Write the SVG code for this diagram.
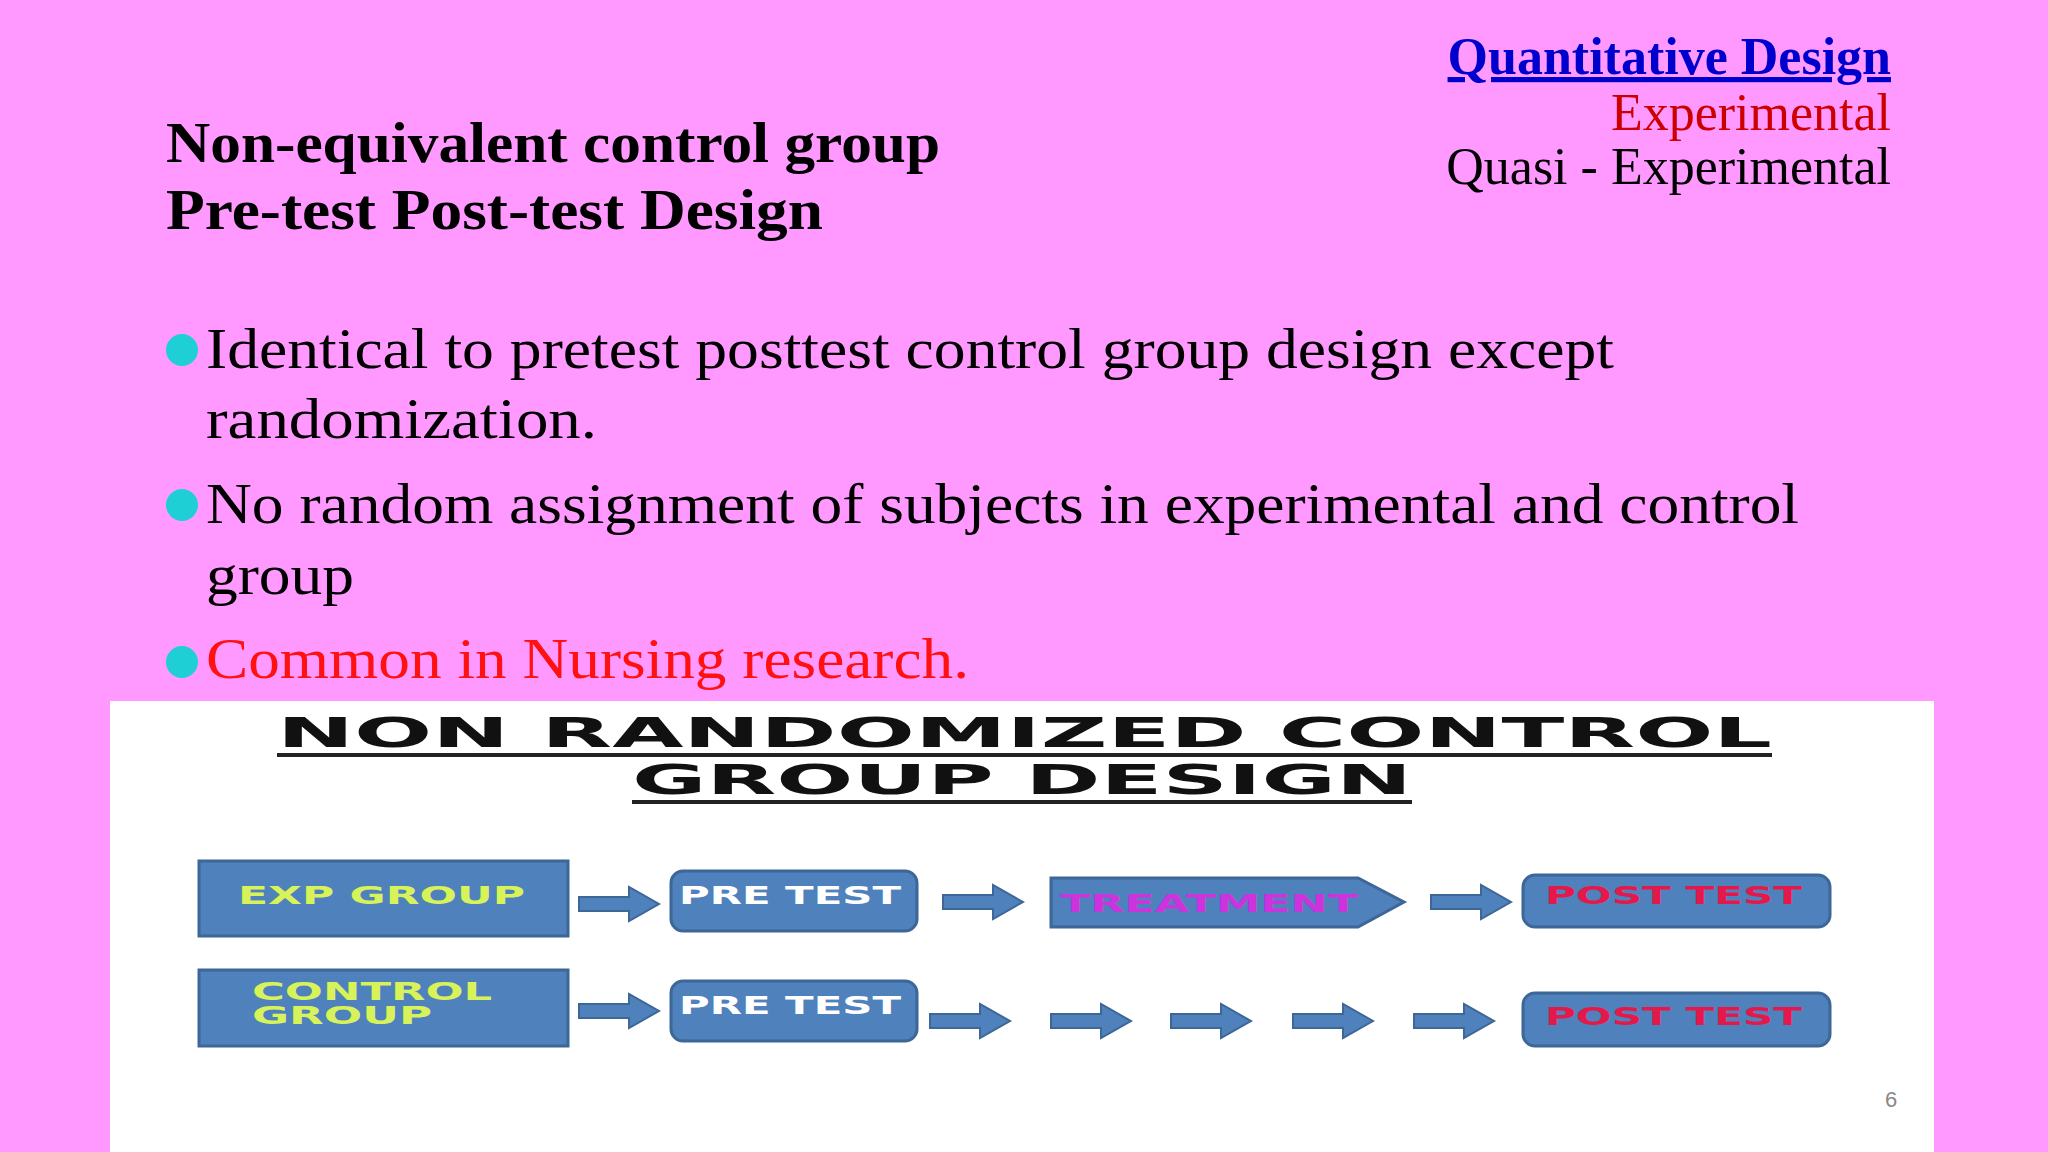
<svg xmlns="http://www.w3.org/2000/svg" width="2048" height="1152" viewBox="0 0 2048 1152">
<defs>
<style>
.h{font-family:"Liberation Serif",serif;font-weight:bold;font-size:58px;fill:#000}
.b{font-family:"Liberation Serif",serif;font-size:57px}
.tr{font-family:"Liberation Serif",serif;font-size:52px;text-anchor:end}
.bul{fill:#1fcfd6}
.box{fill:#4f81bd;stroke:#3d6796;stroke-width:3}
.bt{font-family:"DejaVu Sans",sans-serif;font-weight:bold;font-size:24px}
.ti{font-family:"DejaVu Sans",sans-serif;font-weight:bold;font-size:40px;fill:#111}
.ar{fill:#4f81bd;stroke:#3d6796;stroke-width:2}
</style>
<path id="arr" d="M0,-7 H50 V-17 L80,0 L50,17 V7 H0 Z"/>
</defs>
<rect width="2048" height="1152" fill="#ff99ff"/>
<g id="header">
<text class="h" x="166" y="162" textLength="774" lengthAdjust="spacingAndGlyphs">Non-equivalent control  group</text>
<text class="h" x="166" y="229" textLength="657" lengthAdjust="spacingAndGlyphs">Pre-test  Post-test  Design</text>
<text class="tr" x="1891" y="74" fill="#0000cc" font-weight="bold" text-decoration="underline">Quantitative Design</text>
<text class="tr" x="1891" y="130" fill="#cc0000">Experimental</text>
<text class="tr" x="1891" y="184" fill="#000">Quasi -  Experimental</text>
</g>
<g id="bullets">
<circle class="bul" cx="182" cy="350" r="16"/>
<circle class="bul" cx="182" cy="505" r="16"/>
<circle class="bul" cx="182" cy="662" r="16"/>
<text class="b" x="206" y="368" fill="#000" textLength="1408" lengthAdjust="spacingAndGlyphs">Identical to pretest posttest control group design  except</text>
<text class="b" x="206" y="438" fill="#000" textLength="391" lengthAdjust="spacingAndGlyphs">randomization.</text>
<text class="b" x="206" y="523" fill="#000" textLength="1593" lengthAdjust="spacingAndGlyphs">No random assignment of subjects in experimental and control</text>
<text class="b" x="206" y="594" fill="#000" textLength="148" lengthAdjust="spacingAndGlyphs">group</text>
<text class="b" x="206" y="678" fill="#ff1111" textLength="763" lengthAdjust="spacingAndGlyphs">Common in Nursing research.</text>
</g>
<rect x="110" y="701" width="1824" height="451" fill="#ffffff"/>
<g id="title">
<text class="ti" x="277" y="747" textLength="1495" lengthAdjust="spacingAndGlyphs">NON RANDOMIZED CONTROL</text>
<rect x="277" y="753" width="1495" height="4" fill="#222"/>
<text class="ti" x="632" y="794" textLength="780" lengthAdjust="spacingAndGlyphs">GROUP DESIGN</text>
<rect x="632" y="800" width="780" height="4" fill="#222"/>
</g>
<g id="exp-group"><rect class="box" x="199" y="861" width="369" height="75"/>
<text class="bt" x="238" y="904" fill="#d8f25a" textLength="287" lengthAdjust="spacingAndGlyphs">EXP GROUP</text></g>
<g id="pre-test-1"><rect class="box" x="671" y="871" width="246" height="60" rx="12"/>
<text class="bt" x="679" y="904" fill="#ffffff" textLength="222" lengthAdjust="spacingAndGlyphs">PRE TEST</text></g>
<g id="treatment"><path class="box" d="M1051,878 H1358 L1404,902 L1358,927 H1051 Z"/>
<text class="bt" x="1060" y="912" fill="#cc33dd" textLength="298" lengthAdjust="spacingAndGlyphs">TREATMENT</text></g>
<g id="post-test-1"><rect class="box" x="1523" y="875" width="307" height="52" rx="12"/>
<text class="bt" x="1545" y="904" fill="#e3194b" textLength="257" lengthAdjust="spacingAndGlyphs">POST TEST</text></g>
<g id="control-group"><rect class="box" x="199" y="970" width="369" height="76"/>
<text class="bt" x="252" y="1000" fill="#d8f25a" textLength="240" lengthAdjust="spacingAndGlyphs">CONTROL</text>
<text class="bt" x="252" y="1024" fill="#d8f25a" textLength="180" lengthAdjust="spacingAndGlyphs">GROUP</text></g>
<g id="pre-test-2"><rect class="box" x="671" y="981" width="246" height="60" rx="12"/>
<text class="bt" x="679" y="1014" fill="#ffffff" textLength="222" lengthAdjust="spacingAndGlyphs">PRE TEST</text></g>
<g id="post-test-2"><rect class="box" x="1523" y="993" width="307" height="53" rx="12"/>
<text class="bt" x="1545" y="1025" fill="#e3194b" textLength="257" lengthAdjust="spacingAndGlyphs">POST TEST</text></g>
<g id="connectors">
<use href="#arr" class="ar" transform="translate(579,904)"/>
<use href="#arr" class="ar" transform="translate(943,902)"/>
<use href="#arr" class="ar" transform="translate(1431,902)"/>
<use href="#arr" class="ar" transform="translate(579,1011)"/>
<use href="#arr" class="ar" transform="translate(930,1021)"/>
<use href="#arr" class="ar" transform="translate(1051,1021)"/>
<use href="#arr" class="ar" transform="translate(1171,1021)"/>
<use href="#arr" class="ar" transform="translate(1293,1021)"/>
<use href="#arr" class="ar" transform="translate(1414,1021)"/>
</g>
<text x="1885" y="1107" font-family="Liberation Sans,sans-serif" font-size="22" fill="#888">6</text>
</svg>
